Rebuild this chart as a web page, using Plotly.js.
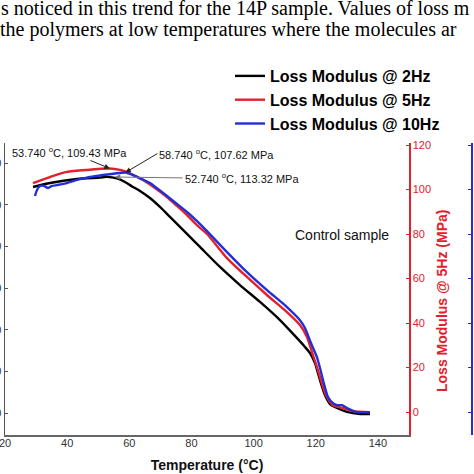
<!DOCTYPE html>
<html>
<head>
<meta charset="utf-8">
<script src="https://cdn.plot.ly/plotly-3.0.1.min.js"></script>
<style>
  html, body { margin: 0; padding: 0; background: #fff; }
  #chart { width: 474px; height: 474px; }
</style>
</head>
<body>
<div id="chart"></div>
<script>
// Loss modulus (MPa) against temperature (°C), control sample, three frequencies
const temp2Hz = [29.01, 34.48, 43.17, 50.57, 52.74, 56.04, 58.61, 61.18, 63.44, 66.65, 69.87, 73.09, 76.31, 79.52, 82.74, 89.18, 95.61, 102.05, 108.48, 113.31, 116.53, 118.13, 119.74, 121.35, 122.96, 124.57, 126.82, 130.04, 134.22, 137.44];
const loss2Hz = [108.5, 110.4, 112.3, 113.0, 113.32, 112.6, 110.9, 108.5, 106.6, 103.2, 98.9, 94.1, 89.3, 84.5, 79.7, 70.1, 61.4, 53.3, 44.6, 37.0, 31.7, 28.8, 24.0, 15.8, 8.6, 4.3, 2.4, 0.5, -0.5, -0.5];

const temp5Hz = [29.01, 34.48, 39.95, 46.38, 53.74, 57.0, 59.25, 61.83, 64.4, 68.26, 72.12, 75.34, 78.56, 81.78, 85.0, 91.43, 97.86, 104.3, 110.73, 114.92, 117.17, 119.1, 120.38, 121.35, 123.28, 125.53, 128.75, 131.97, 137.44];
const loss5Hz = [102.9, 105.6, 107.9, 108.8, 109.43, 108.8, 107.9, 106.1, 104.3, 100.7, 96.6, 92.6, 88.5, 84.0, 80.0, 69.2, 60.7, 52.6, 44.9, 39.1, 33.7, 25.6, 20.2, 15.7, 7.6, 3.1, 1.8, 0.4, 0.0];

const temp10Hz = [29.65, 30.3, 31.26, 32.55, 33.84, 35.12, 36.73, 39.95, 43.17, 47.35, 51.53, 55.39, 58.74, 61.18, 64.08, 66.65, 69.23, 72.12, 75.34, 78.56, 81.78, 85.0, 91.43, 97.86, 104.3, 110.73, 114.92, 116.53, 118.46, 120.38, 121.35, 122.32, 123.93, 125.53, 126.82, 128.43, 130.04, 133.26, 137.44];
const loss10Hz = [97.1, 99.8, 101.6, 101.6, 100.7, 101.6, 102.0, 102.9, 104.3, 105.6, 106.5, 107.2, 107.62, 106.5, 104.7, 102.9, 100.2, 97.1, 93.5, 89.9, 85.8, 81.3, 71.9, 62.9, 54.8, 47.2, 41.3, 37.8, 31.0, 24.7, 19.8, 14.4, 6.7, 4.0, 3.1, 3.1, 1.8, 0.0, 0.0];

const seriesNames = ["Loss Modulus @ 2Hz", "Loss Modulus @ 5Hz", "Loss Modulus @ 10Hz"];
const peakLabels = ["52.740 <sup>o</sup>C, 113.32 MPa", "53.740 <sup>o</sup>C, 109.43 MPa", "58.740 <sup>o</sup>C, 107.62 MPa"];
const peakTemps = [52.74, 53.74, 58.74];
const peakLoss = [113.32, 109.43, 107.62];
const xTicks = [20, 40, 60, 80, 100, 120, 140];
const yTicks = [0, 20, 40, 60, 80, 100, 120];
const textLines = [
  "s noticed in this trend for the 14P sample. Values of loss m",
  "the polymers at low temperatures where the molecules ar"
];

const RED = "rgb(228,32,44)";
const BLUE = "rgb(36,46,214)";

// page geometry (px) and helpers to place paper-referenced text
const W = 474, H = 474;
const M = { l: 5, r: 3, t: 143, b: 39 };
const PW = W - M.l - M.r, PH = H - M.t - M.b;
const px2x = p => (p - M.l) / PW;
const px2y = p => (H - M.b - p) / PH;

const lineStyle = { width: 2.4, shape: "spline", smoothing: 0.6 };

const traces = [
  { x: temp2Hz, y: loss2Hz, yaxis: "y", name: seriesNames[0], legendgroup: "a",
    mode: "lines", line: Object.assign({ color: "#000" }, lineStyle) },
  { x: temp5Hz, y: loss5Hz, yaxis: "y2", name: seriesNames[1], legendgroup: "b",
    mode: "lines", line: Object.assign({ color: RED }, lineStyle) },
  { x: temp10Hz, y: loss10Hz, yaxis: "y3", name: seriesNames[2], legendgroup: "c",
    mode: "lines", line: Object.assign({ color: BLUE }, lineStyle) }
];

const axisCommon = {
  showgrid: false, zeroline: false, showline: true, linewidth: 1.5,
  tickmode: "array", tickvals: yTicks, ticks: "inside", ticklen: 3,
  ticklabeloverflow: "allow"
};

const textFont = { family: "Liberation Serif, serif", size: 20, color: "#000" };
const annFont = { family: "Liberation Sans, Arial, sans-serif", size: 11, color: "#111" };

const annotations = [
  { xref: "paper", yref: "paper", x: px2x(-1), y: px2y(9), xanchor: "left", yanchor: "middle",
    text: textLines[0], showarrow: false, font: textFont },
  { xref: "paper", yref: "paper", x: px2x(-2), y: px2y(30), xanchor: "left", yanchor: "middle",
    text: textLines[1], showarrow: false, font: textFont },
  // peak call-outs
  { xref: "x", yref: "y2", x: peakTemps[1], y: peakLoss[1], text: peakLabels[1],
    ax: -40, ay: -16.5, showarrow: true, arrowhead: 2, arrowsize: 1.1, arrowwidth: 1,
    arrowcolor: "#222", font: annFont },
  { xref: "x", yref: "y3", x: peakTemps[2], y: peakLoss[2], text: peakLabels[2],
    ax: 32, ay: -19, xanchor: "left", showarrow: true, arrowhead: 2, arrowsize: 1.1, arrowwidth: 1,
    arrowcolor: "#222", font: annFont },
  { xref: "x", yref: "y", x: peakTemps[0], y: peakLoss[0], text: peakLabels[0],
    ax: 76, ay: 1, xanchor: "left", showarrow: true, arrowhead: 2, arrowsize: 1.1, arrowwidth: 1,
    standoff: 8, arrowcolor: "#777", font: annFont },
  { xref: "paper", yref: "paper", x: px2x(342), y: px2y(235), xanchor: "center", yanchor: "middle",
    text: "Control sample", showarrow: false,
    font: { family: "Liberation Sans, Arial, sans-serif", size: 14, color: "#111" } },
  // title of the 5 Hz axis
  { xref: "paper", yref: "paper", x: px2x(442), y: px2y(301), xanchor: "center", yanchor: "middle",
    text: "<b>Loss Modulus @ 5Hz (MPa)</b>", textangle: -90, showarrow: false,
    font: { family: "Liberation Sans, Arial, sans-serif", size: 14, color: RED } }
];

const layout = {
  width: W, height: H,
  margin: M,
  paper_bgcolor: "#fff", plot_bgcolor: "rgba(0,0,0,0)",
  font: { family: "Liberation Sans, Arial, sans-serif" },
  showlegend: true,
  legend: {
    x: px2x(230), y: px2y(59), xanchor: "left", yanchor: "top",
    traceorder: "grouped", tracegroupgap: 0,
    bgcolor: "rgba(0,0,0,0)", borderwidth: 0,
    font: { family: "Liberation Sans, Arial, sans-serif", size: 16, color: "#000", weight: "bold" }
  },
  xaxis: {
    domain: [0, px2x(409)], range: [20, 150], tickmode: "array", tickvals: xTicks,
    showgrid: false, zeroline: false, showline: true, linecolor: "#666", linewidth: 1.5,
    ticks: "", ticklabelstandoff: -3, ticklabeloverflow: "allow",
    tickfont: { size: 11, color: "#333" },
    title: { text: "<b>Temperature (°C)</b>", font: { size: 14, color: "#111" }, standoff: 12 },
    automargin: false
  },
  yaxis: Object.assign({}, axisCommon, {
    range: [-10.56, 129.6], linecolor: "#555", tickcolor: "#555",
    tickfont: { size: 11, color: "#333" }, automargin: false
  }),
  yaxis2: Object.assign({}, axisCommon, {
    overlaying: "y", side: "right", anchor: "x", range: [-10.3, 120.9],
    linecolor: RED, tickcolor: RED, tickfont: { size: 11, color: RED }, automargin: false
  }),
  yaxis3: Object.assign({}, axisCommon, {
    overlaying: "y", side: "right", anchor: "free", position: 1, range: [-10.3, 120.9],
    linecolor: BLUE, tickcolor: BLUE, tickfont: { size: 11, color: BLUE }, automargin: false
  }),
  annotations: annotations
};

Plotly.newPlot("chart", traces, layout, { staticPlot: true, displayModeBar: false });
</script>
</body>
</html>
